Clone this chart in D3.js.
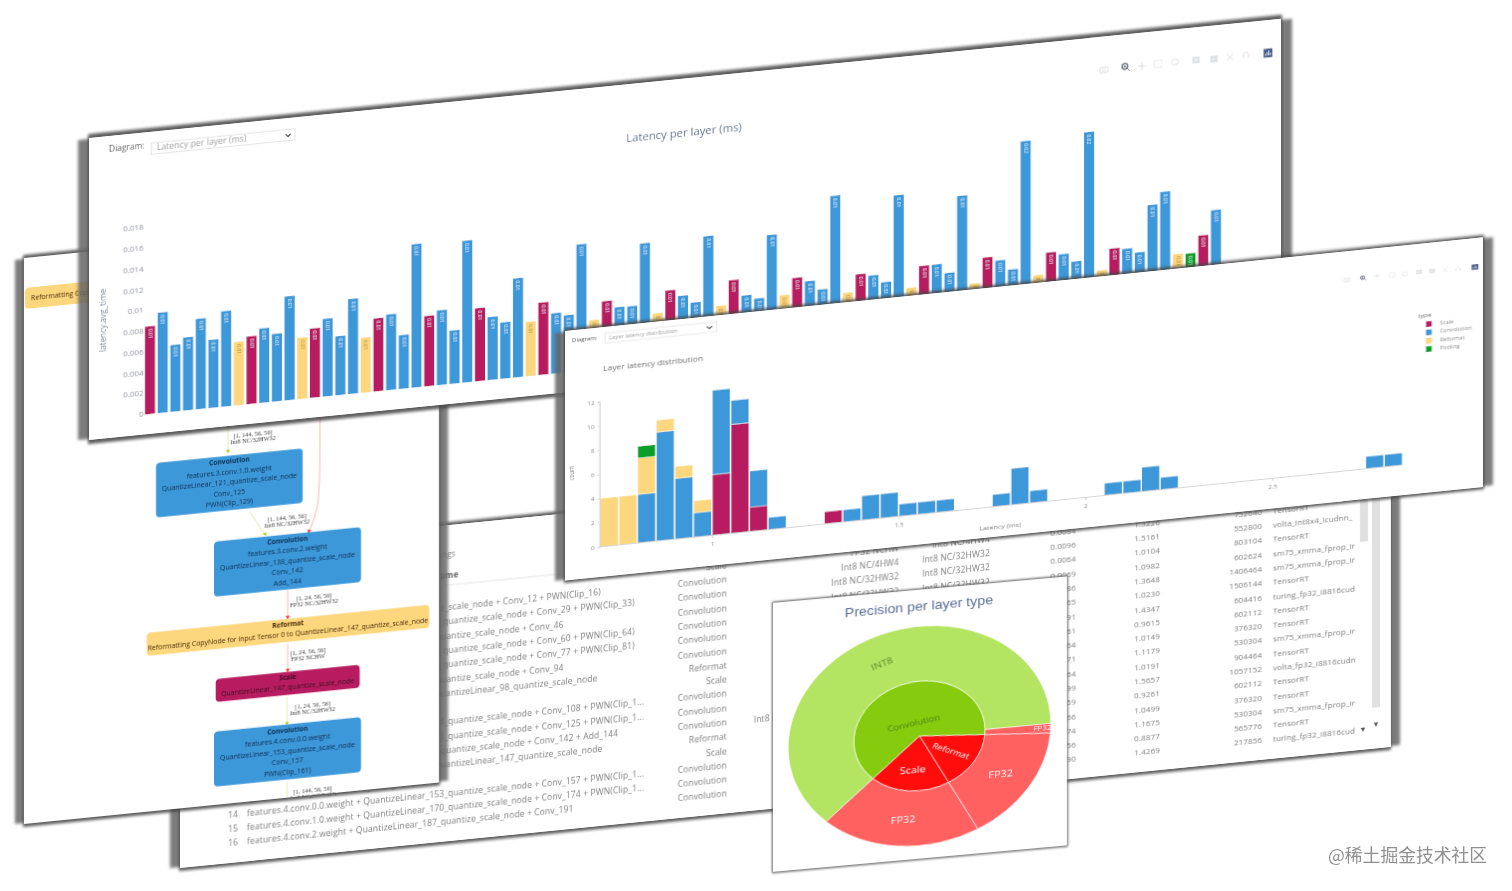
<!DOCTYPE html>
<html><head><meta charset="utf-8">
<style>html,body{margin:0;background:#fff;overflow:hidden}svg{display:block}text{font-family:"Open Sans",sans-serif}</style>
<script src="https://cdn.jsdelivr.net/npm/d3@7"></script></head>
<body><svg id="stage" width="1512" height="891"></svg>
<script>
// ---------- data: latency per layer ----------
const barValues=[.00844,.00966,.00642,.00703,.0087,.00655,.00918,.0061,.00651,.00716,.00651,.01,.0059,.00667,.00748,.00568,.00914,.00529,.00703,.00728,.00517,.0138,.00677,.00719,.00513,.01364,.00703,.00606,.00542,.00953,.00523,.00696,.00581,.00549,.01219,.00478,.00648,.00578,.00574,.01168,.00481,.0069,.00626,.0055,.01176,.00493,.00728,.00569,.00527,.01127,.00535,.00689,.00645,.00553,.01442,.00496,.00663,.00639,.00562,.01387,.00483,.00682,.00683,.0059,.0132,.00464,.00702,.00661,.00562,.01785,.00483,.00689,.0066,.00578,.01811,.00467,.00667,.00651,.00604,.01049,.01163,.00551,.00545,.00707,.00938];
const barTypes=["Scale","Convolution","Convolution","Convolution","Convolution","Convolution","Convolution","Reformat","Scale","Convolution","Convolution","Convolution","Reformat","Scale","Convolution","Convolution","Convolution","Reformat","Scale","Convolution","Convolution","Convolution","Scale","Convolution","Convolution","Convolution","Scale","Convolution","Convolution","Convolution","Reformat","Scale","Convolution","Convolution","Convolution","Reformat","Scale","Convolution","Convolution","Convolution","Reformat","Scale","Convolution","Convolution","Convolution","Reformat","Scale","Convolution","Convolution","Convolution","Reformat","Scale","Convolution","Convolution","Convolution","Reformat","Scale","Convolution","Convolution","Convolution","Reformat","Scale","Convolution","Convolution","Convolution","Reformat","Scale","Convolution","Convolution","Convolution","Reformat","Scale","Convolution","Convolution","Convolution","Reformat","Scale","Convolution","Convolution","Convolution","Convolution","Reformat","Pooling","Scale","Convolution"];
const barTicks=[0,.002,.004,.006,.008,.01,.012,.014,.016,.018];
// ---------- data: layer latency histogram (bin start 0.70, width 0.05) ----------
const histStart=[.7,.75,.8,.85,.9,.95,1,1.05,1.1,1.15,1.2,1.25,1.3,1.35,1.4,1.45,1.5,1.55,1.6,1.65,1.7,1.75,1.8,1.85,1.9,1.95,2,2.05,2.1,2.15,2.2,2.25,2.3,2.35,2.4,2.45,2.5,2.55,2.6,2.65,2.7,2.75,2.8];
const histScale=[0,0,0,0,0,0,5,9,2,0,0,0,1,0,0,0,0,0,0,0,0,0,0,0,0,0,0,0,0,0,0,0,0,0,0,0,0,0,0,0,0,0,0];
const histConv=[0,0,4,9,5,2,7,2,3,1,0,0,0,1,2,2,1,1,1,0,0,1,3,1,0,0,0,1,1,2,1,0,0,0,0,0,0,0,0,0,0,1,1];
const histReformat=[4,4,3,1,1,1,0,0,0,0,0,0,0,0,0,0,0,0,0,0,0,0,0,0,0,0,0,0,0,0,0,0,0,0,0,0,0,0,0,0,0,0,0];
const histPooling=[0,0,1,0,0,0,0,0,0,0,0,0,0,0,0,0,0,0,0,0,0,0,0,0,0,0,0,0,0,0,0,0,0,0,0,0,0,0,0,0,0,0,0];
const histYTicks=[0,2,4,6,8,10,12];
const histXTicks=[1,1.5,2,2.5];
const legendNames=["Scale","Convolution","Reformat","Pooling"];
// ---------- data: table ----------
const rowTypes=["Scale","Convolution","Convolution","Convolution","Convolution","Convolution","Convolution","Reformat","Scale","Convolution","Convolution","Convolution","Reformat","Scale","Convolution","Convolution","Convolution"];
const rowNames=["QuantizeLinear_4_quantize_scale_node",
"features.0.0.weight + QuantizeLinear_7_quantize_scale_node + Conv_12 + PWN(Clip_16)",
"features.1.conv.0.0.weight + QuantizeLinear_24_quantize_scale_node + Conv_29 + PWN(Clip_33)",
"features.1.conv.1.weight + QuantizeLinear_41_quantize_scale_node + Conv_46",
"features.2.conv.0.0.weight + QuantizeLinear_55_quantize_scale_node + Conv_60 + PWN(Clip_64)",
"features.2.conv.1.0.weight + QuantizeLinear_72_quantize_scale_node + Conv_77 + PWN(Clip_81)",
"features.2.conv.2.weight + QuantizeLinear_89_quantize_scale_node + Conv_94",
"Reformatting CopyNode for input Tensor 0 to QuantizeLinear_98_quantize_scale_node",
"QuantizeLinear_98_quantize_scale",
"features.3.conv.0.0.weight + QuantizeLinear_104_quantize_scale_node + Conv_108 + PWN(Clip_1...",
"features.3.conv.1.0.weight + QuantizeLinear_121_quantize_scale_node + Conv_125 + PWN(Clip_1...",
"features.3.conv.2.weight + QuantizeLinear_138_quantize_scale_node + Conv_142 + Add_144",
"Reformatting CopyNode for input Tensor 0 to QuantizeLinear_147_quantize_scale_node",
"QuantizeLinear_147_quantize_scale_node",
"features.4.conv.0.0.weight + QuantizeLinear_153_quantize_scale_node + Conv_157 + PWN(Clip_1...",
"features.4.conv.1.0.weight + QuantizeLinear_170_quantize_scale_node + Conv_174 + PWN(Clip_1...",
"features.4.conv.2.weight + QuantizeLinear_187_quantize_scale_node + Conv_191"];
const N32="Int8 NC/32HW32";
const rowInputs=["FP32 NCHW","Int8 NC/4HW4",N32,N32,N32,N32,N32,N32,"FP32 NCHW",N32,N32,N32+" + "+N32,"FP32 NC/32HW32","FP32 NCHW",N32,N32,N32];
const rowOutputs=["Int8 NC/4HW4",N32,N32,N32,N32,N32,N32,"FP32 NCHW",N32,N32,N32,"FP32 NC/32HW32","FP32 NCHW",N32,N32,N32,N32];
const rowAvg=["0.0084","0.0096","0.0064","0.0069","0.0086","0.0065","0.0091","0.0061","0.0064","0.0071","0.0064","0.0099","0.0059","0.0066","0.0074","0.0056","0.0090"];
const rowRel=["1.3226","1.5161","1.0104","1.0982","1.3648","1.0230","1.4347","0.9615","1.0149","1.1179","1.0191","1.5657","0.9261","1.0499","1.1675","0.8877","1.4269"];
const rowSize=["752640","552800","803104","602624","1406464","1506144","604416","602112","376320","530304","904464","1057152","602112","376320","530304","565776","217856"];
const rowImpl=["TensorRT","volta_int8x4_icudnn_","TensorRT","sm75_xmma_fprop_ir","sm75_xmma_fprop_ir","TensorRT","turing_fp32_i8816cud","TensorRT","TensorRT","sm75_xmma_fprop_ir","TensorRT","volta_fp32_i8816cudn","TensorRT","TensorRT","sm75_xmma_fprop_ir","TensorRT","turing_fp32_i8816cud"];
// ---------- data: graph ----------
const nodeTitles=["Reformat","Convolution","Convolution","Reformat","Scale","Convolution"];
const nodeLines=[["Reformatting CopyNode for input Tensor 0"],
["features.3.conv.1.0.weight","QuantizeLinear_121_quantize_scale_node","Conv_125","PWN(Clip_129)"],
["features.3.conv.2.weight","QuantizeLinear_138_quantize_scale_node","Conv_142","Add_144"],
["Reformatting CopyNode for input Tensor 0 to QuantizeLinear_147_quantize_scale_node"],
["QuantizeLinear_147_quantize_scale_node"],
["features.4.conv.0.0.weight","QuantizeLinear_153_quantize_scale_node","Conv_157","PWN(Clip_161)"]];
const edgeShape=["[1, 144, 56, 56]","[1, 144, 56, 56]","[1, 24, 56, 56]","[1, 24, 56, 56]","[1, 24, 56, 56]","[1, 144, 56, 56]"];
const edgeFormat=["Int8 NC/32HW32","Int8 NC/32HW32","FP32 NC/32HW32","FP32 NCHW","Int8 NC/32HW32","Int8 NC/32HW32"];
// ---------- data: sunburst ----------
const sunTitle="Precision per layer type";
const sunParents=["Reformat","Scale","Convolution"];
const sunReformat=[["FP32",16.4]];
const sunScale=[["FP32",19.9]];
const sunConvolution=[["INT8",62.3],["FP32",1.4]];

// ---------- layout ----------
const colors={Scale:"#b81f60",Convolution:"#3d98d9",Reformat:"#fdd77e",Pooling:"#0e9e2b"};
const stage=d3.select("#stage");
const defs=stage.append("defs");
[["b3",3],["b2",1.8],["b1",1],["soft",.42]].forEach(([id,s])=>{
  defs.append("filter").attr("id",id).attr("x","-6%").attr("y","-6%").attr("width","112%").attr("height","112%")
   .append("feGaussianBlur").attr("stdDeviation",s);
});
let pid=0;
function panel(p){
  const o=stage.append("g").attr("transform",`matrix(1 ${p.k} 0 ${p.sy} ${p.x0} ${p.y0})`);
  if(p.side){o.append("rect").attr("x",-p.side).attr("y",1).attr("width",p.w+2*p.side).attr("height",p.h-2)
    .attr("fill","#666").attr("opacity",.85).attr("filter","url(#b2)");}
  o.append("rect").attr("x",-1).attr("y",-p.top).attr("width",p.w+2).attr("height",p.h+2*p.top)
    .attr("fill","#444").attr("opacity",.85).attr("filter","url(#"+(p.side?"b2":"b1")+")");
  o.append("rect").attr("width",p.w).attr("height",p.h).attr("fill","#fff");
  const id="clip"+(pid++);
  defs.append("clipPath").attr("id",id).append("rect").attr("width",p.w).attr("height",p.h);
  const g=o.append("g").attr("clip-path",`url(#${id})`).append("g").attr("filter","url(#soft)");
  g.append("rect").attr("width",p.w).attr("height",p.h).attr("fill","#fff");
  return {g,at:(x,y)=>[x-p.x0,(y-p.y0-p.k*(x-p.x0))/p.sy],p};
}
function label(P,sx,sy,str,o={}){
  const [x,y]=P.at(sx,sy);
  return P.g.append("text").attr("x",x).attr("y",y).text(str)
    .attr("font-size",o.size||8).attr("fill",o.fill||"#777").attr("text-anchor",o.anchor||"start")
    .attr("font-weight",o.weight||400).attr("font-family",o.family||null).attr("letter-spacing",o.ls||null)
    .style("font-family",o.family||null);
}
function selectBox(P,lx,ly,rx,h,lbl,txt,tx,fs,lblfs,lblx,lbly){
  const [x,y]=P.at(lx,ly),[x2]=P.at(rx,ly);
  P.g.append("rect").attr("x",x).attr("y",y).attr("width",x2-x).attr("height",h).attr("fill","#fff").attr("stroke","#d6d9de").attr("stroke-width",.7);
  label(P,lblx,lbly,lbl,{size:lblfs,fill:"#555"});
  const [tl]=P.at(tx,ly);
  P.g.append("text").attr("x",tl).attr("y",y+h*.72).text(txt).attr("font-size",fs).attr("fill","#999");
  const cx=x2-h*.6,cy=y+h*.5,s=h*.16;
  P.g.append("path").attr("d",`M${cx-s*1.4},${cy-s*.6}L${cx},${cy+s*.8}L${cx+s*1.4},${cy-s*.6}`).attr("fill","none").attr("stroke","#333").attr("stroke-width",1);
}
function toolbar(P,xs,ys,s){
  const names=["camera","zoom","pan","box","lasso","in","out","auto","reset","logo"];
  names.forEach((n,i)=>{
    const [x,y]=P.at(xs[i],ys[i]);
    const g=P.g.append("g").attr("transform",`translate(${x},${y}) scale(${s})`);
    const c=n==="zoom"?"#5a6270":"#dcdfe3";
    if(n==="camera"){g.append("rect").attr("x",-5).attr("y",-3.5).attr("width",10).attr("height",7).attr("rx",2).attr("fill","none").attr("stroke",c).attr("stroke-width",1.3);g.append("circle").attr("r",1.8).attr("fill","none").attr("stroke",c);}
    if(n==="zoom"){g.append("circle").attr("r",3.5).attr("cx",-.8).attr("cy",-.8).attr("fill","none").attr("stroke",c).attr("stroke-width",1.6);g.append("path").attr("d","M2,2L5,5M-2.4,-.8H.8M-.8,-2.4V.8").attr("stroke",c).attr("stroke-width",1.2);}
    if(n==="pan"){g.append("path").attr("d","M-5,0H5M0,-5V5").attr("stroke",c).attr("stroke-width",1.4);}
    if(n==="box"){g.append("rect").attr("x",-4.5).attr("y",-4.5).attr("width",9).attr("height",9).attr("fill","none").attr("stroke",c).attr("stroke-dasharray","2 1").attr("stroke-width",1.1);}
    if(n==="lasso"){g.append("ellipse").attr("rx",4.5).attr("ry",3.5).attr("fill","none").attr("stroke",c).attr("stroke-width",1.2);}
    if(n==="in"||n==="out"){g.append("rect").attr("x",-4.5).attr("y",-4).attr("width",9).attr("height",8).attr("fill",c);g.append("path").attr("d",n==="in"?"M-2,0H2M0,-2V2":"M-2,0H2").attr("stroke","#fff").attr("stroke-width",1);}
    if(n==="auto"){g.append("path").attr("d","M-4,-4L4,4M-4,4L4,-4").attr("stroke",c).attr("stroke-width",1);}
    if(n==="reset"){g.append("path").attr("d","M-5,1L0,-4L5,1M-3,4V0M3,4V0").attr("fill","none").attr("stroke",c).attr("stroke-width",1.2);}
    if(n==="logo"){g.append("rect").attr("x",-5.5).attr("y",-5.5).attr("width",11).attr("height",11).attr("fill","#4a5f8c");g.append("path").attr("d","M-3,3V1M-1,3V-1M1,3V-3M3,3V0").attr("stroke","#fff").attr("stroke-width",1);}
  });
}
const styleAxis=(sel,fs,fill)=>{sel.selectAll("text").attr("font-size",fs).attr("fill",fill).attr("font-family",'"Open Sans",sans-serif');};

// ========== table panel (back) ==========
const D=panel({x0:180,y0:552,k:-.1,sy:1,w:1210,h:316,side:10,top:3});
const rowY=d3.scaleLinear().domain([0,16]).range([67.8,296.5]);
const rowIdx=d3.range(rowTypes.length);
const tcol=(vals,sx,anchor,o={})=>{
  const x=sx-180;
  D.g.append("g").selectAll("text").data(vals).join("text").attr("x",x).attr("y",(d,i)=>rowY(i)+3)
    .attr("text-anchor",anchor).attr("font-size",o.size||8.5).attr("fill","#7d7d7d").attr("letter-spacing",o.ls||.12).text(d=>d);
};
tcol(rowIdx.map(d=>d),238,"end");
tcol(rowNames,247,"start");
tcol(rowTypes,727,"end");
tcol(rowInputs,899,"end");
tcol(rowOutputs,990,"end");
tcol(rowAvg,1076,"end",{size:8});
tcol(rowRel,1160,"end",{size:8});
tcol(rowSize,1262,"end",{size:8});
// clipped implementation column
defs.append("clipPath").attr("id","implClip").append("rect").attr("x",1273-180).attr("y",40).attr("width",86).attr("height",270);
const implG=D.g.append("g").attr("clip-path","url(#implClip)");
implG.selectAll("text").data(rowImpl).join("text").attr("x",1273-180).attr("y",(d,i)=>rowY(i)+3).attr("font-size",8).attr("fill","#7d7d7d").attr("letter-spacing",.12).text(d=>d);
label(D,424,560,"Settings",{size:8.5,fill:"#888"});
label(D,433,580,"Name",{size:8.5,fill:"#666",weight:700});
D.g.append("line").attr("x1",0).attr("x2",1190).attr("y1",60).attr("y2",60).attr("stroke","#d8d8d8").attr("stroke-width",.7);
D.g.append("rect").attr("x",1360-180).attr("y",0).attr("width",8).attr("height",D.at(1360,542)[1]).attr("fill","#e0e0e0");
D.g.append("rect").attr("x",1372-180).attr("y",0).attr("width",8).attr("height",D.at(1372,708)[1]).attr("fill","#e0e0e0");
[[1363,729],[1376,724]].forEach(([x,y])=>{const [a,b]=D.at(x,y);D.g.append("path").attr("d",d3.symbol(d3.symbolTriangle,9)()).attr("fill","#555").attr("transform",`translate(${a},${b}) rotate(180)`);});

// ========== graph panel ==========
const C=panel({x0:24,y0:258,k:-.1,sy:1,w:415,h:566,side:9,top:3});
const nodeBox=[[25,288,300,21],[156,463,146.7,54.5],[214,541.7,147,55],[146.7,633,282.6,23],[215.7,679,144,23],[214,731.7,147,55]];
const edgePts=[
 {c:"g",pts:[[228,410],[228,452]]},{c:"g",pts:[[250,512],[258,524],[265,535]]},
 {c:"r",pts:[[320,400],[320,480],[318,510],[309,532]]},
 {c:"r",pts:[[287.7,590],[287.7,618]]},{c:"r",pts:[[287.7,644],[287.7,671]]},
 {c:"g",pts:[[287,697],[287,724]]},{c:"g",pts:[[287,782],[287,815]]}];
const lineGen=d3.line().curve(d3.curveBasis);
edgePts.forEach(e=>{
  const pts=e.pts.map(q=>C.at(q[0],q[1]));
  C.g.append("path").attr("d",lineGen(pts)).attr("fill","none").attr("stroke",e.c==="g"?"#e3efb8":"#f9b9b9").attr("stroke-width",1);
  const last=pts[pts.length-1],prev=pts[pts.length-2];
  const a=Math.atan2(last[1]-prev[1],last[0]-prev[0])*180/Math.PI+90;
  C.g.append("path").attr("d",d3.symbol(d3.symbolTriangle,7)()).attr("fill",e.c==="g"?"#a4d31e":"#ff2a2a").attr("transform",`translate(${last[0]},${last[1]-1}) rotate(${a})`);
});
nodeTitles.forEach((t,i)=>{
  const b=nodeBox[i],[x,y]=C.at(b[0],b[1]);
  const fill=t==="Reformat"?colors.Reformat:t==="Scale"?colors.Scale:colors.Convolution;
  C.g.append("rect").attr("x",x).attr("y",y).attr("width",b[2]).attr("height",b[3]).attr("rx",4).attr("fill",fill);
  const cx=x+b[2]/2, tc=t==="Scale"?"#3a0a22":t==="Reformat"?"#4a2a08":"#0d2f52";
  if(i===0){C.g.append("text").attr("x",x+6).attr("y",y+13).attr("font-size",6.9).attr("fill",tc).text(nodeLines[0][0]);return;}
  const n=nodeLines[i].length;
  C.g.append("text").attr("x",cx).attr("y",y+8).attr("text-anchor","middle").attr("font-size",6.7).attr("font-weight",700).attr("fill",tc).text(t);
  nodeLines[i].forEach((l,j)=>{C.g.append("text").attr("x",cx).attr("y",y+(n>1?18.5+j*10.5:17.5)).attr("text-anchor","middle").attr("font-size",n>1?7:6.9).attr("fill",tc).text(l);});
});
const edgeLblPos=[[253,436.5],[287,519.5],[314,599.5],[308,653.5],[312.7,707.5],[312.7,792]];
edgeShape.forEach((s,i)=>{
  const p=edgeLblPos[i];
  label(C,p[0],p[1],s,{size:6.3,fill:"#444",anchor:"middle",family:'"Liberation Serif",serif'});
  label(C,p[0],p[1]+6,edgeFormat[i],{size:6.3,fill:"#444",anchor:"middle",family:'"Liberation Serif",serif'});
});

// ========== latency per layer ==========
const A=panel({x0:89,y0:138,k:-.1,sy:1,w:1192,h:302,side:11,top:4});
const ax=d3.scaleBand().domain(d3.range(barValues.length)).range([54.66,54.66+85*12.69]).paddingInner(.2).paddingOuter(.1);
const ay=d3.scaleLinear().domain([0,.018]).range([282.1,95.1]);
A.g.append("g").selectAll("rect").data(barValues).join("rect")
  .attr("x",(d,i)=>ax(i)).attr("y",d=>ay(d)).attr("width",ax.bandwidth()).attr("height",d=>ay(0)-ay(d))
  .attr("fill",(d,i)=>colors[barTypes[i]]);
A.g.append("g").selectAll("text").data(barValues).join("text")
  .attr("transform",(d,i)=>`translate(${ax(i)+ax.bandwidth()/2-1.7},${ay(d)+2.5}) rotate(90)`)
  .attr("font-size",5).attr("fill",(d,i)=>barTypes[i]==="Reformat"?"#b08a3a":"#e8f3ff").text(d=>d3.format(".2f")(d));
const aAxis=A.g.append("g").attr("transform","translate(54.5,-1)")
  .call(d3.axisLeft(ay).tickValues(barTicks).tickSize(0).tickPadding(0).tickFormat(d3.format("~g")));
aAxis.select(".domain").remove();styleAxis(aAxis,8,"#8b909a");
{const [x,y]=A.at(106,320);A.g.append("text").attr("transform",`translate(${x},${y}) rotate(-90)`).attr("text-anchor","middle").attr("font-size",8.2).attr("fill","#7c8799").text("latency.avg_time");}
label(A,684,137,"Latency per layer (ms)",{size:11.3,fill:"#5f6f8e",anchor:"middle"});
selectBox(A,151,143,295,11.5,"Diagram:","Latency per layer (ms)",156.6,8.8,8.4,109,152);
toolbar(A,[1104,1125.5,1142,1158,1175,1196,1214,1230,1246,1268],[70,67,66,64,62,60,59,57,55,53],.8);

// ========== latency histogram ==========
const B=panel({x0:565,y0:331,k:-.102,sy:.8,w:918,h:312,side:10,top:3});
const hx=d3.scaleLinear().domain([.7,2.5]).range([35,35+1.8*373.4]);
const by=B.at(600,547)[1];
const hy=d3.scaleLinear().domain([0,12]).range([by,by-12*12.08/.8]);
const stackKeys=["Scale","Convolution","Reformat","Pooling"];
const rows=histStart.map((s,i)=>({start:s,Scale:histScale[i],Convolution:histConv[i],Reformat:histReformat[i],Pooling:histPooling[i]}));
const series=d3.stack().keys(stackKeys)(rows);
B.g.append("g").selectAll("g").data(series).join("g").attr("fill",d=>colors[d.key])
 .selectAll("rect").data(d=>d.filter(v=>v[1]>v[0])).join("rect")
 .attr("x",d=>hx(d.data.start)+.6).attr("width",hx(.75)-hx(.7)-1.4).attr("y",d=>hy(d[1])).attr("height",d=>hy(d[0])-hy(d[1])-.8);
const bxAxis=B.g.append("g").attr("transform",`translate(0,${by})`).call(d3.axisBottom(hx).tickValues(histXTicks).tickSize(3).tickPadding(6).tickFormat(d3.format("~g")));
bxAxis.select(".domain").attr("d",`M${hx(.7)},0H${hx(2.85)}`).attr("stroke","#c8c8c8");bxAxis.selectAll("line").attr("stroke","#ccc");styleAxis(bxAxis,6.4,"#888");
const byAxis=B.g.append("g").attr("transform",`translate(${hx(.7)-.5},0)`).call(d3.axisLeft(hy).tickValues(histYTicks).tickSize(2).tickPadding(3));
byAxis.select(".domain").attr("stroke","#c8c8c8");byAxis.selectAll("line").attr("stroke","#ccc");styleAxis(byAxis,6.4,"#888");
label(B,1000,529,"Latency (ms)",{size:7.2,fill:"#777",anchor:"middle"});
{const [x,y]=B.at(574,473);B.g.append("text").attr("transform",`translate(${x},${y}) rotate(-90)`).attr("text-anchor","middle").attr("font-size",6.6).attr("fill","#777").text("count");}
label(B,603,371,"Layer latency distribution",{size:8.5,fill:"#666"});
selectBox(B,605,333,717,12.5,"Diagram:","Layer latency distribution",609,5.8,6,572,342);
toolbar(B,[1347,1363,1377,1392,1405,1419,1432,1445,1458,1475],[280,278,276,275,274,272,271,270,269,267],.62);
label(B,1418,318.5,"type",{size:6.6,fill:"#666"});
legendNames.forEach((n,i)=>{
  const [x,y]=B.at(1426,321.5+8.35*i);
  B.g.append("rect").attr("x",x).attr("y",y).attr("width",5.8).attr("height",7).attr("fill",colors[n]);
  B.g.append("text").attr("x",x+14).attr("y",y+6).attr("font-size",5.7).attr("fill","#888").text(n);
});

// ========== sunburst ==========
const E=panel({x0:773,y0:603,k:-.09,sy:.835,w:294,h:322,side:0,top:1.5});
const cx=146.5,cy=175,R=131.3,rot=94.6*Math.PI/180;
const tree={name:"root",children:[
 {name:sunParents[0],children:sunReformat.map(d=>({name:d[0],value:d[1]}))},
 {name:sunParents[1],children:sunScale.map(d=>({name:d[0],value:d[1]}))},
 {name:sunParents[2],children:sunConvolution.map(d=>({name:d[0],value:d[1]}))}]};
const root=d3.partition().size([2*Math.PI,1])(d3.hierarchy(tree).sum(d=>d.value||0));
const arc=d3.arc().startAngle(d=>d.x0+rot).endAngle(d=>d.x1+rot)
  .innerRadius(d=>d.depth===1?0:R/2).outerRadius(d=>d.depth===1?R/2:R);
const sg=E.g.append("g").attr("transform",`translate(${cx},${cy})`);
const isGreen=d=>d.data.name==="Convolution"||d.data.name==="INT8";
const fillOf=d=>d.depth===1?(isGreen(d)?"#86cb10":"#ff0f0f"):(isGreen(d)?"#b3e462":"#ff6060");
const nodes=root.descendants().filter(d=>d.depth>0);
sg.selectAll("path").data(nodes).join("path").attr("d",arc).attr("fill",fillOf).attr("stroke","#fff").attr("stroke-opacity",.75).attr("stroke-width",.9);
const labelFix={"Convolution":[17,-10,9.5],"INT8":[98,-20,10.4],"Reformat":[38,26,9.2],"Scale":[41,0,10.8],"Reformat/FP32":[98,0,10.8],"Scale/FP32":[100,0,10.8],"Convolution/FP32":[123,0,8]};
sg.selectAll("text").data(nodes).join("text").each(function(d){
  const key=d.depth===2&&d.data.name==="FP32"?d.parent.data.name+"/FP32":d.data.name;
  const [r,a,fs]=labelFix[key];
  const m=(d.x0+d.x1)/2+rot;
  d3.select(this).attr("transform",`translate(${r*Math.sin(m)},${-r*Math.cos(m)}) rotate(${a})`)
   .attr("text-anchor","middle").attr("dy",".35em").attr("font-size",fs)
   .attr("fill",isGreen(d)?(d.depth===1?"#4f7f14":"#5f8a2a"):"#fff").text(d.data.name);
});
label(E,919,611,sunTitle,{size:14.2,fill:"#5a6f96",anchor:"middle",family:'"Liberation Sans",sans-serif'});

// ========== watermark ==========
stage.append("text").attr("x",1328).attr("y",862).attr("font-size",17.8)
 .style("font-family",'"Noto Sans CJK SC",sans-serif').attr("fill","#8f8f8f").text("@稀土掘金技术社区");
</script></body></html>
